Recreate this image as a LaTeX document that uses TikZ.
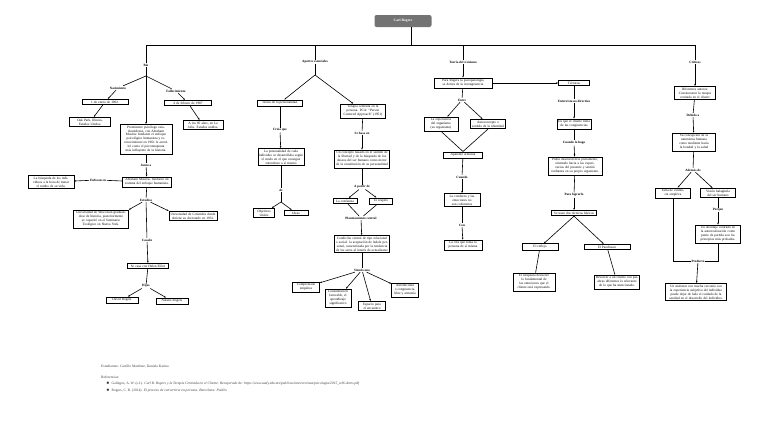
\documentclass[tikz,border=0pt]{standalone}
\usepackage{fontspec}
\setmainfont{Liberation Serif}
\usetikzlibrary{arrows.meta}
\begin{document}
\begin{tikzpicture}[x=1pt,y=-1pt,
 fs/.style={font=\fontsize{3.4}{3.9}\selectfont},
 box/.style={fs,draw,line width=0.7pt,fill=white,align=center,inner xsep=1pt,inner ysep=1.6pt},
 lbl/.style={font=\fontsize{3.3}{3.8}\selectfont\bfseries,fill=white,inner sep=0.8pt},
 ln/.style={line width=0.6pt},
 arr/.style={line width=0.6pt,-{Stealth[length=2pt,width=1.6pt]}}]
\useasboundingbox (0,0) rectangle (768,431);
% title
\node[fs,fill=black!55,text=white,rounded corners=2pt,minimum width=57pt,minimum height=12pt,font=\fontsize{3.6}{4}\selectfont\bfseries] (root) at (403,21) {Carl Rogers};
\coordinate (bl) at (146,45); \coordinate (br) at (695,45); \coordinate (bm) at (411,45);
\draw[ln] (411,27) -- (bm); \draw[ln] (bl) -- (br);
% ===== Bio
\node[lbl] (bio) at (146,65) {Bio};
\coordinate (bj) at (146,76);
\node[lbl] (nac) at (118,88) {Nacimiento};
\node[lbl] (fal) at (176,91) {Fallecimiento};
\node[box,text width=44pt] (b1) at (105,102) {1 de enero de 1902.};
\node[box,text width=39pt] (b2) at (90,122) {Oak Park, Illinois. Estados Unidos.};
\node[box,text width=45pt] (b3) at (188,103) {4 de febrero de 1987};
\node[box,text width=38pt] (b4) at (203,125) {A los 85 años, en La Jolla. Estados unidos.};
\node[box,text width=50pt] (b5) at (146,139) {Prominente psicólogo estadounidense, con Abraham Maslow fundaron el enfoque psicológico humanista y reconocimiento en 1961 le acreditó como el psicoterapeuta más influyente de la historia.};
\node[lbl] (junto) at (146,165) {Junto a};
\node[box,text width=47pt] (b6) at (147,182) {Abraham Maslow, fundaron un sistema del enfoque humanista.};
\node[lbl] (enf) at (98,180) {Enfocan en};
\node[box,text width=44pt] (b7) at (51,182) {La búsqueda de los individuos a la hora de tomar el rumbo de su vida.};
\node[lbl] (est) at (146,200) {Estudios};
\node[box,text width=53pt] (b8) at (101,219) {Universidad de Wisconsin graduándose de historia, posteriormente se capacitó en el Seminario Teológico en Nueva York.};
\node[box,text width=46pt] (b9) at (193,216) {Universidad de Columbia donde obtiene su doctorado en 1931.};
\node[lbl] (cas) at (147,240) {Casado};
\node[box,text width=39pt] (b10) at (148,266) {Se casa con Helen Elliot};
\node[lbl] (hij) at (146,286) {Hijos};
\node[box,text width=30pt] (b11) at (122,300) {David Rogers};
\node[box,text width=30pt] (b12) at (172,301) {Natalie Rogers};
\draw[ln] (bl) -- (bio) -- (bj);
\draw[ln] (bj) -- (nac); \draw[ln] (bj) -- (fal);
\draw[arr] (nac) -- (b1); \draw[arr] (fal) -- (b3);
\draw[arr] (b1) -- (b2); \draw[arr] (b3) -- (b4);
\draw[arr] (bj) -- (b5);
\draw[ln] (b5) -- (junto); \draw[arr] (junto) -- (b6);
\draw[ln] (b6) -- (enf); \draw[arr] (enf) -- (b7);
\draw[ln] (b6) -- (est); \draw[arr] (est) -- (b8.north east); \draw[arr] (est) -- (b9.north west);
\draw[ln] (est) -- (cas); \draw[arr] (cas) -- (b10);
\draw[ln] (b10) -- (hij); \draw[arr] (hij) -- (b11); \draw[arr] (hij) -- (b12);
% ===== Aportes
\node[lbl] (ap) at (315,62) {Aportes esenciales};
\coordinate (aj) at (315,75);
\node[box,text width=43pt] (a1) at (280,103) {Teoría de la personalidad.};
\node[box,text width=43pt] (a2) at (363,111) {Terapia centrada en la persona. PCA: ``Person Centered Approach'' (1951)};
\node[lbl] (creia) at (280,130) {Creía que};
\node[box,text width=44pt] (a3) at (281,157) {La personalidad de cada individuo se desarrollaba según el modo en el que consigue entenderse a sí mismo};
\node[lbl] (sebasa) at (362,133) {Se basa en};
\node[box,text width=53pt] (a4) at (362,159) {Un concepto basado en el sentido de la libertad y de la búsqueda de los deseos del ser humano como motor de la constitución de su personalidad};
\node[lbl] (de) at (281,190) {de};
\coordinate (dj) at (281,202);
\node[box,text width=19pt] (a5) at (264,213) {Objetivos vitales};
\node[box,text width=22pt] (a6) at (296,213) {Ideas};
\node[lbl] (apd) at (362,187) {A partir de};
\node[box,text width=22pt] (a7) at (345,201) {La confianza};
\node[box,text width=21pt] (a8) at (381,201) {El respeto};
\node[lbl] (plan) at (361,218) {Planteamiento central};
\node[box,text width=53pt] (a9) at (362,244) {Condición central de tipo relacional o social: la aceptación de índole personal, caracterizada por la tendencia de los seres al interés de actualizarse};
\node[lbl] (siendo) at (362,270) {Siendo una};
\node[box,text width=25pt] (a10) at (306,287) {Comprensión empática};
\node[box,text width=24pt] (a11) at (338,298) {Consideración favorable, el aprendizaje significativo};
\node[box,text width=25pt] (a12) at (372,306) {Espacio para el encuentro};
\node[box,text width=25pt] (a13) at (405,290) {Autenticidad o congruencia, libre y armonía};
\draw[ln] (315,45) -- (ap) -- (aj);
\draw[arr] (aj) -- (a1); \draw[arr] (aj) -- (a2);
\draw[ln] (a1) -- (creia); \draw[arr] (creia) -- (a3);
\draw[ln] (a2) -- (sebasa); \draw[arr] (sebasa) -- (a4);
\draw[ln] (a3) -- (de) -- (dj); \draw[arr] (dj) -- (a5); \draw[arr] (dj) -- (a6);
\draw[ln] (a4) -- (apd); \draw[arr] (apd) -- (a7); \draw[arr] (apd) -- (a8);
\draw[ln] (a7) -- (plan); \draw[ln] (a8) -- (plan);
\draw[arr] (plan) -- (a9);
\draw[ln] (a9) -- (siendo);
\draw[arr] (siendo) -- (a10); \draw[arr] (siendo) -- (a11); \draw[arr] (siendo) -- (a12); \draw[arr] (siendo) -- (a13);
% ===== Teoria del si mismo
\node[lbl] (ts) at (463,62) {Teoría del sí mismo};
\node[box,text width=56pt] (t1) at (463,83) {Para Rogers la psicopatología se deriva de la incongruencia};
\node[box,text width=29pt] (t2) at (574,83) {Técnicas};
\node[lbl] (entre) at (462,100) {Entre};
\node[box,text width=32pt] (t3) at (441,124) {La experiencia del organismo (su organismo)};
\node[box,text width=33pt] (t4) at (488,124) {Autoconcepto o sentido de la identidad};
\node[box,text width=37pt] (t5) at (463,155) {Aparente armonía};
\node[lbl] (cuando) at (462,177) {Cuando};
\node[box,text width=34pt] (t6) at (462,200) {La conducta y las emociones no son coherentes};
\node[lbl] (con) at (462,225) {Con};
\node[box,text width=36pt] (t7) at (463,245) {La cita que toma la persona de sí misma};
\node[lbl] (ent) at (574,101) {Entrevista no directiva};
\node[box,text width=32pt] (t8) at (574,124) {En que el cliente toma de las congruencias};
\node[lbl] (clh) at (574,143) {Cuando lo haga};
\node[box,text width=52pt] (t9) at (575,166) {Podrá desenvolverse plenamente, orientado hacia a las experiencias del presente y sentirá confianza en su propio organismo.};
\node[lbl] (pl) at (574,195) {Para lograrlo};
\node[box,text width=43pt] (t10) at (574,213) {Se usan dos técnicas básicas};
\node[box,text width=34pt] (t11) at (540,247) {El reflejo};
\node[box,text width=44pt] (t12) at (607,247) {El Parafraseo};
\node[box,text width=40pt] (t13) at (534,282) {El terapeuta devuelve lo fundamental de las emociones que el cliente está expresando.};
\node[box,text width=43pt] (t14) at (617,282) {Devolver a un cliente con palabras diferentes lo relevante de lo que ha mencionado.};
\draw[ln] (463,45) -- (ts); \draw[arr] (ts) -- (t1);
\draw[arr] (t1) -- (t2);
\draw[ln] (t1) -- (entre); \draw[arr] (entre) -- (t3); \draw[arr] (entre) -- (t4);
\draw[ln] (t3.south) -- (t5.north); \draw[ln] (t4.south) -- (t5.north);
\draw[ln] (t5) -- (cuando); \draw[arr] (cuando) -- (t6);
\draw[ln] (t6) -- (con); \draw[arr] (con) -- (t7);
\draw[ln] (t2) -- (ent); \draw[arr] (ent) -- (t8);
\draw[ln] (t8) -- (clh); \draw[arr] (clh) -- (t9);
\draw[ln] (t9) -- (pl); \draw[arr] (pl) -- (t10);
\draw[arr] (t10.south) -- (t11); \draw[arr] (t10.south) -- (t12);
\draw[ln] (t11) -- (t13); \draw[ln] (t12) -- (t14);
% ===== Criticas
\node[lbl] (cr) at (695,62) {Críticas};
\node[box,text width=39pt] (c1) at (695,93) {Diferentes autores: Cuestionaron la terapia centrada en el cliente};
\node[lbl] (deb) at (693,115) {Debido a};
\node[box,text width=41pt] (c2) at (694,142) {Su concepción de la naturaleza humana como tendiente hacia la bondad y la salud};
\node[lbl] (adem) at (693,170) {Además de};
\node[box,text width=33pt] (c3) at (673,193) {Falta de evidencia empírica};
\node[box,text width=33pt] (c4) at (718,193) {Visión halagüeña del ser humano};
\node[lbl] (porq) at (718,210) {Porque};
\node[box,text width=43pt] (c5) at (718,234) {Un abordaje centrado en la autorrealización como punto de partida son los principios más probados.};
\node[lbl] (prod) at (698,261) {Producto};
\node[box,text width=59pt] (c6) at (696,292) {Un malestar con mucha cercanía con la experiencia subjetiva del individuo puede dejar de lado el cuidado de la sanidad en el desarrollo del individuo.};
\draw[ln] (br) -- (cr); \draw[arr] (cr) -- (c1);
\draw[ln] (c1) -- (deb); \draw[arr] (deb) -- (c2);
\draw[ln] (c2) -- (adem); \draw[arr] (adem) -- (c3); \draw[arr] (adem) -- (c4);
\draw[ln] (c4) -- (porq); \draw[arr] (porq) -- (c5);
\draw[ln] (c3.south) |- (prod.west); \draw[ln] (c5.south) |- (prod.east);
\draw[arr] (prod) -- (c6);
% footer
\tikzset{ft/.style={font=\fontsize{3.6}{4.2}\selectfont,anchor=west,text=black!75,inner sep=0pt}}
\node[ft] (st) at (101,367) {Estudiantes: Carrillo Martínez, Daniela Karina};
\node[ft] (ref) at (101,377) {Referencias:};
\node[ft] (r1) at (106,384) {$\bullet$\ \ Gallegos, A. W. (s.f.). \textit{Carl R. Rogers y la Terapia Centrada en el Cliente. Recuperado de: https://www.uady.edu.mx/publicaciones/revistas/psicologia/2015\_a/W-Artes.pdf}};
\node[ft] (r2) at (106,391) {$\bullet$\ \ Rogers, C. R. (2014). \textit{El proceso de convertirse en persona. Barcelona: Paidós.}};
\end{tikzpicture}
\end{document}
